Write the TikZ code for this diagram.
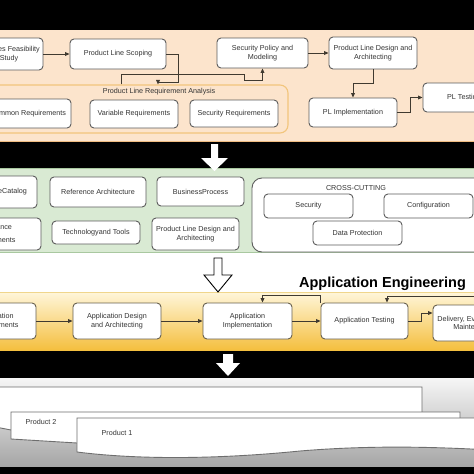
\documentclass[tikz,border=0pt]{standalone}
\usepackage{fontspec}
\setmainfont{Liberation Sans}
\usetikzlibrary{arrows.meta}
\definecolor{peach}{HTML}{FCE4CC}
\definecolor{peachline}{HTML}{F0BC82}
\definecolor{contc}{HTML}{F2C57C}
\definecolor{greenband}{HTML}{D9EAD3}
\definecolor{greenline}{HTML}{A9C8A0}
\definecolor{boxc}{HTML}{5C5C5C}
\definecolor{yboxc}{HTML}{67604E}
\definecolor{txt}{HTML}{333333}
\definecolor{linec}{HTML}{403A30}
\definecolor{papc}{HTML}{6E6E6E}
\definecolor{ytop}{HTML}{FFF6DA}
\definecolor{ybot}{HTML}{F4BE3C}
\definecolor{yline}{HTML}{F0D68C}
\definecolor{gtop}{HTML}{F6F6F6}
\definecolor{gbot}{HTML}{A5A5A5}
\begin{document}
\begin{tikzpicture}[x=1pt,y=-1pt,
  box/.style={draw=boxc, fill=white, rounded corners=4pt, line width=0.9pt, align=center,
    inner sep=1pt, font=\fontsize{7.2}{8.6}\selectfont, text=txt},
  ybox/.style={box, draw=yboxc},
  wh/.style 2 args={minimum width=#1pt, minimum height=#2pt},
  lbl/.style={font=\fontsize{7.2}{8.6}\selectfont, text=txt, inner sep=0pt},
  conn/.style={draw=linec, line width=0.8pt, -{Triangle[length=4.5pt,width=3.8pt]}},
  paper/.style={draw=papc, fill=white, line width=0.9pt}]
\useasboundingbox (0,0) rectangle (474,474);
\clip (0,0) rectangle (474,474);

% ---------- bands ----------
\fill[black] (0,0) rectangle (474,30);
\fill[peach] (0,30) rectangle (474,142);
\draw[peachline, line width=0.8pt] (0,141.5) -- (474,141.5);
\fill[black] (0,142) rectangle (474,168);
\fill[greenband] (0,168) rectangle (474,253);
\draw[greenline, line width=0.8pt] (0,168.5) -- (474,168.5) (0,252.5) -- (474,252.5);
\fill[white] (0,253) rectangle (474,292);
\shade[top color=ytop, bottom color=ybot] (0,292) rectangle (474,351);
\draw[yline, line width=0.6pt] (0,292.3) -- (474,292.3);
\fill[black] (0,351) rectangle (474,378);
\shade[top color=gtop, bottom color=gbot] (0,378) rectangle (474,467);
\fill[black] (0,467) rectangle (474,474);

% ---------- domain engineering (top) ----------
\node[draw=contc, line width=1.1pt, rounded corners=8pt, minimum width=308pt, minimum height=48pt, inner sep=0pt] (reqcont) at (134,109) {};
\node[lbl] (reqlbl) at (159,92) {Product Line Requirement Analysis};

\node[box, wh={68}{32}] (feas) at (9,54) {Services Feasibility\\Study};
\node[box, wh={96}{30}] (scope) at (118,54) {Product Line Scoping};
\node[box, wh={91}{30}] (secpol) at (262.5,53) {Security Policy and\\Modeling};
\node[box, wh={88}{32}] (pldesign) at (373,53) {Product Line Design and\\Architecting};
\node[box, wh={88}{29}] (plimpl) at (353,112.5) {PL Implementation};
\node[box, wh={82}{29}] (pltest) at (464,97.5) {PL Testing};
\node[box, wh={86}{29}] (common) at (28,113.5) {Common Requirements};
\node[box, wh={88}{28}] (variable) at (134,114) {Variable Requirements};
\node[box, wh={88}{27}] (secreq) at (234,113.5) {Security Requirements};

\coordinate (k158) at (158,0);
\coordinate (k121) at (121,0);
\draw[conn] (feas) -- (scope);
\draw[conn] (scope.east) -| (178,82) -- (158,82) -- (reqcont.north -| k158);
\draw[conn] (reqcont.north -| k121) |- (244,74) -- (244,80) -| (secpol.south);
\draw[conn] (secpol) -- (pldesign);
\draw[conn] (pldesign.south) -- ++(0,14) -| (plimpl.north);
\draw[conn] (plimpl.east) -- ++(13,0) |- (pltest.west);

% ---------- arrow 1 ----------
\fill[white] (211,144) -- (218,144) -- (218,158) -- (228,158) -- (214.5,171) -- (201,158) -- (211,158) -- cycle;

% ---------- asset base (green) ----------
\node[box, wh={69}{32}] (catalog) at (2.5,192) {ServiceCatalog};
\node[box, wh={96}{30}] (refarch) at (98,192) {Reference Architecture};
\node[box, wh={87}{29}] (busproc) at (200.5,191.5) {BusinessProcess};
\node[box, wh={96}{32}] (compl) at (-7,234) {Compliance\\[5pt]Requirements};
\node[box, wh={88}{23}] (techtools) at (96,232.5) {Technologyand Tools};
\node[box, wh={87}{32}] (pldesign2) at (195.5,234) {Product Line Design and\\Architecting};
\node[draw=boxc, fill=white, rounded corners=10pt, line width=0.9pt, minimum width=268pt, minimum height=74pt, inner sep=0pt] (cross) at (386,215) {};
\node[lbl] (crosslbl) at (356,188) {CROSS-CUTTING};
\node[box, wh={89}{24}] (security) at (308.5,206) {Security};
\node[box, wh={89}{24}] (config) at (428.5,206) {Configuration};
\node[box, wh={89}{24}] (dataprot) at (357.5,233) {Data Protection};

% ---------- arrow 2 (hollow) ----------
\draw[fill=white, line width=0.9pt] (214,258) -- (222,258) -- (222,275) -- (232,275) -- (218,292) -- (204,275) -- (214,275) -- cycle;
\node[font=\fontsize{14.5}{16}\selectfont\bfseries, text=black, inner sep=0pt] (title) at (382.5,284) {Application Engineering};

% ---------- application engineering (yellow) ----------
\node[ybox, wh={80}{36}] (appreq) at (-4,321) {Application\\Requirements};
\node[ybox, wh={88}{36}] (appdesign) at (117,321) {Application Design\\and Architecting};
\node[ybox, wh={89}{36}] (appimpl) at (247.5,321) {Application\\Implementation};
\node[ybox, wh={87}{36}] (apptest) at (364.5,321) {Application Testing};
\node[ybox, wh={82}{36}] (delivery) at (474,323) {Delivery, Evolution and\\Maintenance};

\draw[conn] (appreq) -- (appdesign);
\draw[conn] (appdesign) -- (appimpl);
\draw[conn] (appimpl) -- (apptest);
\draw[conn] (apptest.east) -- ++(13,0) |- ([yshift=10pt]delivery.west);
\draw[conn] (apptest.north west) -- ++(0,-7) -| ([xshift=15pt]appimpl.north);
\draw[conn] ([xshift=-10pt]delivery.north east) -- ++(0,-8) -| ([xshift=22.5pt]apptest.north);

% ---------- arrow 3 ----------
\fill[white] (223,354) -- (233,354) -- (233,363) -- (240,363) -- (228,376) -- (216,363) -- (223,363) -- cycle;

% ---------- products ----------
\draw[paper] (-20,387) -- (422,387) -- (422,430) -- (11,430) -- (-20,424) -- cycle;
\draw[paper] (11,412) -- (460,412) -- (460,440) -- (77,443) -- (11,439) -- cycle;
\draw[paper] (77,418) -- (490,418) -- (490,450) .. controls (420,446) and (360,446) .. (300,451) .. controls (220,459) and (140,460) .. (77,452) -- cycle;
\node[lbl] (p2) at (41,422) {Product 2};
\node[lbl] (p1) at (117,433) {Product 1};
\end{tikzpicture}
\end{document}
